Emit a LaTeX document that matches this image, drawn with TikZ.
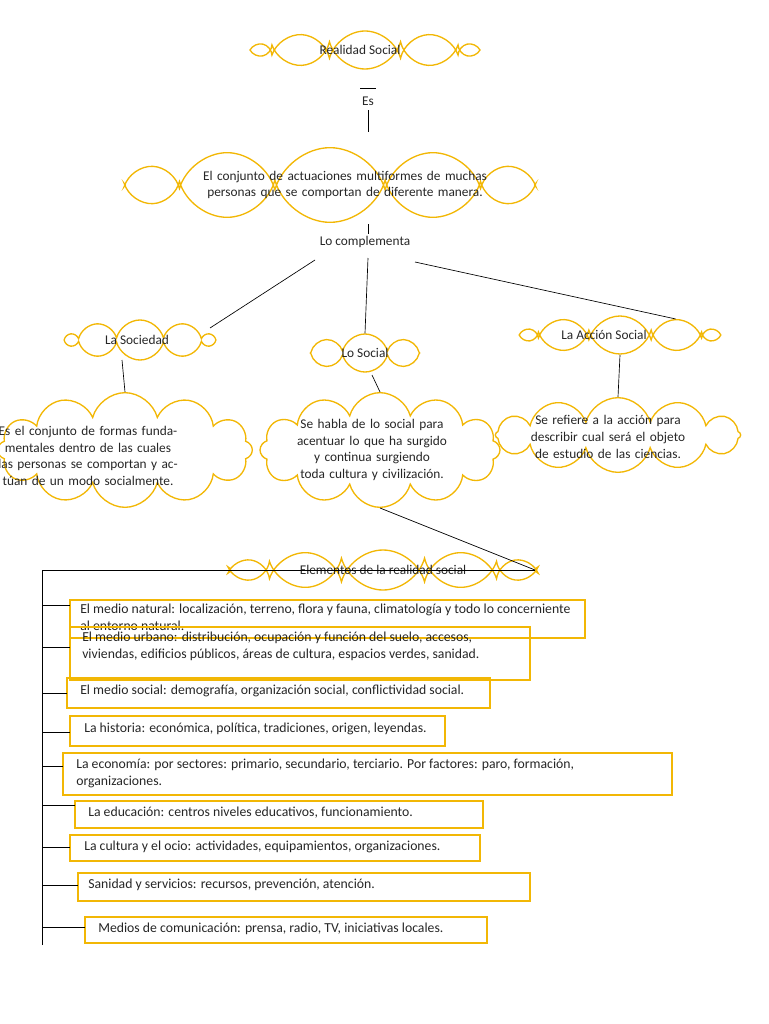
\documentclass[tikz,border=0pt]{standalone}
\usepackage{fontspec}
\setmainfont{Carlito}
\usetikzlibrary{shapes.symbols}
\definecolor{gold}{HTML}{F2B705}
\tikzset{
 cl/.style={cloud,cloud puffs=#1,cloud puff arc=150,cloud ignores aspect,draw=gold,line width=1pt,inner sep=0pt},
 cl/.default=10,
 tx/.style={font=\fontsize{10}{12.5}\selectfont,align=center,text=black!85},
 bx/.style={draw=gold,line width=0.9pt},
 bt/.style={font=\fontsize{10.3}{12.6}\selectfont,anchor=north west,align=flush left,inner sep=0pt,text=black!85},
 ln/.style={black,line width=0.5pt}
}
\begin{document}
\begin{tikzpicture}[x=0.75pt,y=-0.75pt]
\useasboundingbox (0,0) rectangle (768,1024);
\node[cl,minimum width=161pt,minimum height=28.5pt] (rs) at (365,50) {};
\node[tx] at (360,50) {Realidad Social};
\draw[ln] (360,88) -- (376,88);
\node[tx] (es) at (368,101) {Es};
\node[cl=12,minimum width=307pt,minimum height=56pt] (big) at (330,185) {};
\node[tx,text width=230pt] at (345,185) {El conjunto de actuaciones multiformes de muchas personas que se comportan de diferente manera.};
\node[tx] (lc) at (365,242) {Lo complementa};
\coordinate (es2) at (368,132);
\draw[ln] (es.south) -- (es2);
\coordinate (b1) at (368,224);
\draw[ln] (b1) -- (368,234);
\node[cl,minimum width=109pt,minimum height=30pt] (soc) at (140,340) {};
\node[tx] at (137,340) {La Sociedad};
\node[cl=8,minimum width=82pt,minimum height=28.5pt] (los) at (365,353) {};
\node[tx] at (365,353) {Lo Social};
\node[cl,minimum width=142pt,minimum height=28.5pt] (acc) at (620,335) {};
\node[tx] at (604,335) {La Acción Social};
\coordinate (l1) at (315,260); \coordinate (l2) at (415,262); \coordinate (l3) at (368,258);
\draw[ln] (l1) -- (210,328);
\draw[ln] (l3) -- (los.north);
\draw[ln] (l2) -- (acc);
\node[cl=12,minimum width=191pt,minimum height=86pt] (soct) at (125,450) {};
\node[tx,text width=135pt] at (88,456) {Es el conjunto de formas fundamentales dentro de las cuales las personas se comportan y actúan de un modo socialmente.};
\node[cl=12,minimum width=180pt,minimum height=86pt] (lost) at (380,450) {};
\node[tx,text width=120pt] at (372,450) {Se habla de lo social para acentuar lo que ha surgido y continua surgiendo toda cultura y civilización.};
\node[cl=12,minimum width=184pt,minimum height=56pt] (acct) at (618,435) {};
\node[tx,text width=128pt] at (608,437) {Se refiere a la acción para describir cual será el objeto de estudio de las ciencias.};
\draw[ln] (122,360) -- (soct.north);
\draw[ln] (372,375) -- (lost.north);
\draw[ln] (620,355) -- (acct.north);
\node[cl=12,minimum width=229pt,minimum height=30pt] (el) at (383,570) {};
\node[tx] at (383,570) {Elementos de la realidad social};
\draw[ln] (lost.south) -- (el.north);
\draw[ln] (42,945) -- (42,570) -- (el.west);
% boxes
\draw[bx] (70,600) rectangle (585,638);
\node[bt,text width=375pt] at (80,604) {El medio natural: localización, terreno, flora y fauna, climatología y todo lo concerniente\\al entorno natural.};
\draw[bx] (70,627) rectangle (530,680);
\node[bt,text width=340pt] at (82,632) {El medio urbano: distribución, ocupación y función del suelo, accesos,\\viviendas, edificios públicos, áreas de cultura, espacios verdes, sanidad.};
\draw[bx] (67,678) rectangle (490,708);
\node[bt] at (80,685) {El medio social: demografía, organización social, conflictividad social.};
\draw[bx] (70,716) rectangle (445,746);
\node[bt] at (84,723) {La historia: económica, política, tradiciones, origen, leyendas.};
\draw[bx] (63,753) rectangle (672,795);
\node[bt,text width=460pt] at (76,759) {La economía: por sectores: primario, secundario, terciario. Por factores: paro, formación,\\organizaciones.};
\draw[bx] (75,801) rectangle (483,828);
\node[bt] at (88,807) {La educación: centros niveles educativos, funcionamiento.};
\draw[bx] (70,835) rectangle (480,861);
\node[bt] at (84,841) {La cultura y el ocio: actividades, equipamientos, organizaciones.};
\draw[bx] (78,873) rectangle (530,901);
\node[bt] at (88,879) {Sanidad y servicios: recursos, prevención, atención.};
\draw[bx] (85,917) rectangle (487,943);
\node[bt] at (98,923) {Medios de comunicación: prensa, radio, TV, iniciativas locales.};
\foreach \y/\x in {605/70,647/70,693/67,732/70,766/63,805/75,847/70,885/78,927/85}
 \draw[ln] (42,\y) -- (\x,\y);
\end{tikzpicture}
\end{document}
